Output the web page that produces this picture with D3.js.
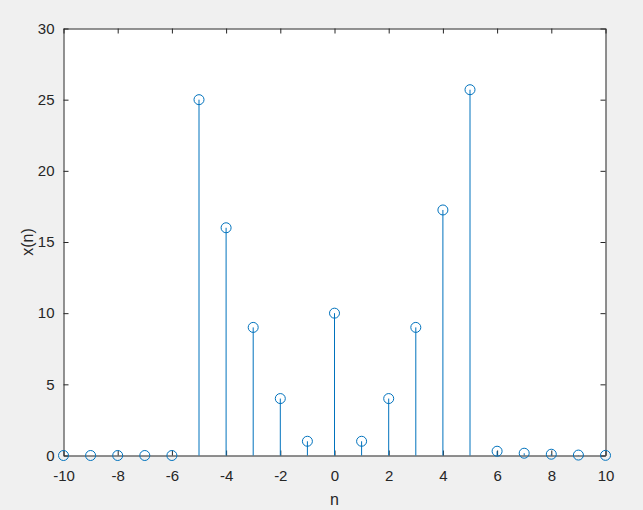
<!DOCTYPE html>
<html>
<head>
<meta charset="utf-8">
<script src="https://cdn.jsdelivr.net/npm/d3@7"></script>
<style>
body { margin: 0; background: #f0f0f0; }
svg { display: block; }
.tick text { font-family: Arial, "Liberation Sans", sans-serif; font-size: 15px; fill: #262626; }
</style>
</head>
<body>
<div id="vis"></div>
<script>
// stem plot of x(n)
var nValues = [-10, -9, -8, -7, -6, -5, -4, -3, -2, -1, 0, 1, 2, 3, 4, 5, 6, 7, 8, 9, 10];
var xnValues = [0, 0, 0, 0, 0, 25, 16, 9, 4, 1, 10, 1, 4, 9, 17.25, 25.7, 0.3, 0.16, 0.09, 0.03, 0.01];
var xTicks = [-10, -8, -6, -4, -2, 0, 2, 4, 6, 8, 10];
var yTicks = [0, 5, 10, 15, 20, 25, 30];

var margin = {top: 28.5, right: 37.5, bottom: 54.5, left: 63.5},
	totalW = 643,
	totalH = 510,
	width = totalW - margin.left - margin.right,
	height = totalH - margin.top - margin.bottom;
var stemColor = "#0072bd";
var axisColor = "#262626";
// plain hyphen like matlab, not the unicode minus
var plain = function(d){return String(d);};

var x = d3.scaleLinear()
			.domain([-10, 10])
			.range([0, width]);
var y = d3.scaleLinear()
			.domain([0, 30])
			.range([height, 0]);

var svg = d3.select("#vis").append("svg")
	.attr("width", totalW)
	.attr("height", totalH)
.append("g")
	.attr("transform", "translate(" + margin.left + "," + margin.top + ")");

svg.append("rect")
	.attr("width", width)
	.attr("height", height)
	.attr("fill", "#fff");

//x axis bottom
svg.append("g")
	.attr("transform", "translate(0," + height + ")")
	.call(d3.axisBottom(x).tickValues(xTicks).tickFormat(plain).tickSizeInner(-5).tickSizeOuter(0).tickPadding(15));
//x axis top, ticks only
svg.append("g")
	.call(d3.axisTop(x).tickValues(xTicks).tickSizeInner(-5).tickSizeOuter(0).tickFormat(""));
//y axis left
svg.append("g")
	.call(d3.axisLeft(y).tickValues(yTicks).tickFormat(plain).tickSizeInner(-5).tickSizeOuter(0).tickPadding(9));
//y axis right, ticks only
svg.append("g")
	.attr("transform", "translate(" + width + ",0)")
	.call(d3.axisRight(y).tickValues(yTicks).tickSizeInner(-5).tickSizeOuter(0).tickFormat(""));

svg.selectAll(".domain").attr("stroke", axisColor);
svg.selectAll(".tick line").attr("stroke", axisColor);

//stems
svg.selectAll(".stem")
	.data(nValues)
	.enter().append("line")
		.attr("class", "stem")
		.attr("x1", function(d){return x(d);})
		.attr("x2", function(d){return x(d);})
		.attr("y1", y(0))
		.attr("y2", function(d, i){return y(xnValues[i]);})
		.attr("stroke", stemColor)
		.attr("stroke-width", 1);

svg.selectAll(".marker")
	.data(nValues)
	.enter().append("circle")
		.attr("class", "marker")
		.attr("cx", function(d){return x(d);})
		.attr("cy", function(d, i){return y(xnValues[i]);})
		.attr("r", 5)
		.attr("fill", "none")
		.attr("stroke", stemColor)
		.attr("stroke-width", 1);

//labels
svg.append("text")
	.attr("x", width / 2)
	.attr("y", height + 49.5)
	.attr("text-anchor", "middle")
	.style("font-family", "Arial, 'Liberation Sans', sans-serif")
	.style("font-size", "16px")
	.style("fill", axisColor)
	.text("n");
svg.append("text")
	.attr("transform", "rotate(-90)")
	.attr("x", -height / 2)
	.attr("y", -31)
	.attr("text-anchor", "middle")
	.style("font-family", "Arial, 'Liberation Sans', sans-serif")
	.style("font-size", "16px")
	.style("fill", axisColor)
	.text("x(n)");
</script>
</body>
</html>
